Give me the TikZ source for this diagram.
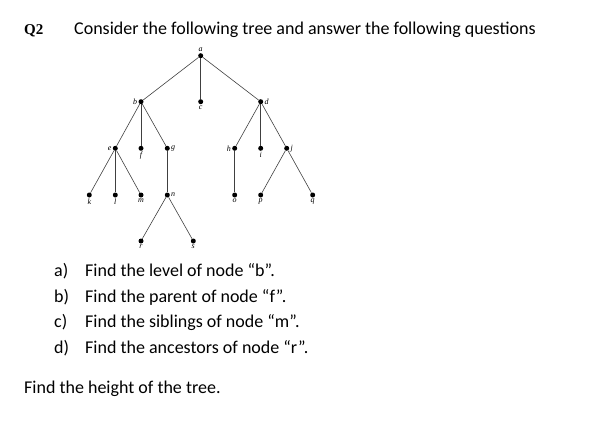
\documentclass[tikz,border=0pt]{standalone}
\usepackage{fontspec}
\setmainfont{Carlito}
\newfontfamily\serifq{Liberation Serif}
\begin{document}
\begin{tikzpicture}[x=1pt,y=-1pt,
  v/.style={circle,fill=black,inner sep=0pt,minimum size=5pt},
  e/.style={draw=black!75,line width=0.6pt},
  lb/.style={font=\serifq\itshape\fontsize{8}{9}\selectfont,inner sep=1pt},
  tx/.style={font=\fontsize{18}{20}\selectfont,anchor=base west,inner sep=0pt}]
\useasboundingbox (0,0) rectangle (607,425);
\node[v] (a) at (200.7,55.7) {};
\node[v] (b) at (141,101.7) {};
\node[v] (c) at (200.7,101.7) {};
\node[v] (d) at (260.7,101.7) {};
\node[v] (e) at (115.3,148.3) {};
\node[v] (f) at (141,148.3) {};
\node[v] (g) at (167.3,148.3) {};
\node[v] (h) at (234.7,148.3) {};
\node[v] (i) at (260.7,148.3) {};
\node[v] (j) at (286.7,148.3) {};
\node[v] (k) at (89.3,195) {};
\node[v] (l) at (115.3,195) {};
\node[v] (m) at (141,195) {};
\node[v] (n) at (167.3,195) {};
\node[v] (o) at (234.7,195) {};
\node[v] (p) at (260.7,195) {};
\node[v] (q) at (312.7,195) {};
\node[v] (r) at (141,241) {};
\node[v] (s) at (193.3,241) {};
\foreach \u/\w in {a/b,a/c,a/d,b/e,b/f,b/g,d/h,d/i,d/j,e/k,e/l,e/m,g/n,h/o,j/p,j/q,n/r,n/s}
  \draw[e] (\u) -- (\w);
\node[lb,above] (la) at (a.north) {a};
\node[lb,left] (lb_) at (b.west) {b};
\node[lb,below] (lc) at (c.south) {c};
\node[lb,right] (ld) at (d.east) {d};
\node[lb,left] (le) at (e.west) {e};
\node[lb,below] (lf) at (f.south) {f};
\node[lb,right] (lg) at (g.east) {g};
\node[lb,left] (lh) at (h.west) {h};
\node[lb,below] (li) at (i.south) {i};
\node[lb,right] (lj) at (j.east) {j};
\node[lb,below] (lk) at (k.south) {k};
\node[lb,below] (ll) at (l.south) {l};
\node[lb,below] (lm) at (m.south) {m};
\node[lb,right] (ln) at (n.east) {n};
\node[lb,below] (lo) at (o.south) {o};
\node[lb,below] (lp) at (p.south) {p};
\node[lb,below] (lq) at (q.south) {q};
\node[lb,below] (lr) at (r.south) {r};
\node[lb,below] (ls) at (s.south) {s};
\node[tx,font=\serifq\bfseries\fontsize{15}{16}\selectfont] (q2) at (24,35) {Q2};
\node[tx] (t0) at (74,35) {Consider the following tree and answer the following questions};
\node[tx] (a1) at (54,276) {a)};
\node[tx] (a2) at (85,276) {Find the level of node “b”.};
\node[tx] (b1) at (54,302) {b)};
\node[tx] (b2) at (85,302) {Find the parent of node “f”.};
\node[tx] (c1) at (54,327) {c)};
\node[tx] (c2) at (85,327) {Find the siblings of node “m”.};
\node[tx] (d1) at (54,353) {d)};
\node[tx] (d2) at (85,353) {Find the ancestors of node “r”.};
\node[tx] (t9) at (24,393) {Find the height of the tree.};
\end{tikzpicture}
\end{document}
